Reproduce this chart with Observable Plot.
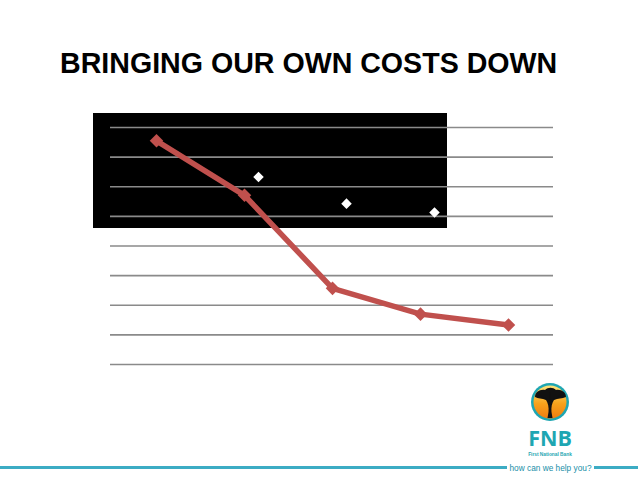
<!DOCTYPE html>
<html>
<head>
<meta charset="utf-8">
<script src="https://cdn.jsdelivr.net/npm/d3@7"></script>
<script src="https://cdn.jsdelivr.net/npm/@observablehq/plot@0.6"></script>
<style>
  html, body { margin: 0; padding: 0; background: #fff; }
  #page { position: relative; width: 638px; height: 478px; overflow: hidden; background: #fff; }
  #title { position: absolute; left: 60px; top: 49px; font: bold 28.6px "Liberation Sans", Arial, sans-serif; line-height: 28.6px; color: #000; white-space: nowrap; }
  #blackbox { position: absolute; left: 93px; top: 113px; width: 354px; height: 115px; background: #000; }
  #chart { position: absolute; left: 0; top: 100px; }
  #deco { position: absolute; left: 0; top: 0; }
</style>
</head>
<body>
<div id="page">
  <div id="title">BRINGING OUR OWN COSTS DOWN</div>
  <div id="blackbox"></div>
  <div id="chart"></div>
  <svg id="deco" width="638" height="478" viewBox="0 0 638 478">
    <defs>
      <linearGradient id="sun" x1="0" y1="0" x2="0" y2="1">
        <stop offset="0" stop-color="#fde37a"/>
        <stop offset="0.55" stop-color="#f7a21b"/>
        <stop offset="1" stop-color="#ee7d11"/>
      </linearGradient>
    </defs>
    <circle cx="550" cy="402" r="19" fill="#1ea6b2"/>
    <circle cx="550" cy="402" r="16.5" fill="url(#sun)"/>
    <path d="M535,397 C535,392 540,389 545,390 C548,387 553,387 556,390 C561,389 566,392 566,397 C562,399 558,398 554,400 C552,403 551,407 551.5,412 L552.5,418 L547.5,418 L548.5,412 C549,407 548,403 546,400 C542,398 538,399 535,397 Z" fill="#111"/>
    <path d="M539,395 L546,399 M561,395 L554,399 M550,392 L550,401" stroke="#111" stroke-width="1.2"/>
    <text x="550" y="445.5" text-anchor="middle" font-family="'Open Sans', sans-serif" font-weight="bold" font-size="21.5" fill="#1ea6b2">FNB</text>
    <text x="550" y="455.5" text-anchor="middle" font-family="'Liberation Sans', sans-serif" font-weight="bold" font-size="4.8" fill="#1ea6b2">First National Bank</text>
    <line x1="0" y1="467.5" x2="507" y2="467.5" stroke="#3cacc4" stroke-width="3"/>
    <line x1="594" y1="467.5" x2="638" y2="467.5" stroke="#3cacc4" stroke-width="3"/>
    <text x="509.5" y="471" textLength="82" lengthAdjust="spacingAndGlyphs" font-family="'Liberation Sans', sans-serif" font-size="9.5" fill="#1a8fa8">how can we help you?</text>
  </svg>
</div>
<script>
const periods = ["P1", "P2", "P3", "P4", "P5"];
const costs = [75.5, 57.1, 25.7, 17.0, 13.3];
const hiddenPeriods = ["P2", "P3", "P4"];
const hiddenValues = [63.3, 54.3, 51.3];
const gridTicks = [0, 10, 20, 30, 40, 50, 60, 70, 80];

const main = periods.map((p, i) => ({period: p, value: costs[i]}));
const hidden = hiddenPeriods.map((p, i) => ({period: p, value: hiddenValues[i]}));

const chart = Plot.plot({
  width: 638,
  height: 290,
  marginLeft: 110,
  marginRight: 85,
  marginTop: 27,
  marginBottom: 26,
  style: {background: "transparent", overflow: "visible"},
  x: {type: "point", domain: periods, padding: 0.5, axis: null},
  y: {domain: [0, 80], axis: null},
  marks: [
    Plot.ruleY(gridTicks, {stroke: "#8a8a8a", strokeWidth: 1.6}),
    Plot.line(main, {x: "period", y: "value", stroke: "#c0504d", strokeWidth: 5.5, strokeLinejoin: "round"}),
    Plot.dot(main, {x: "period", y: "value", symbol: "square", r: 5.4, rotate: 45, fill: "#c0504d", stroke: "none"}),
    Plot.dot(hidden, {x: "period", y: "value", symbol: "square", r: 4.2, rotate: 45, fill: "#ffffff", stroke: "none", dx: 14})
  ]
});
document.getElementById("chart").appendChild(chart);
</script>
</body>
</html>
